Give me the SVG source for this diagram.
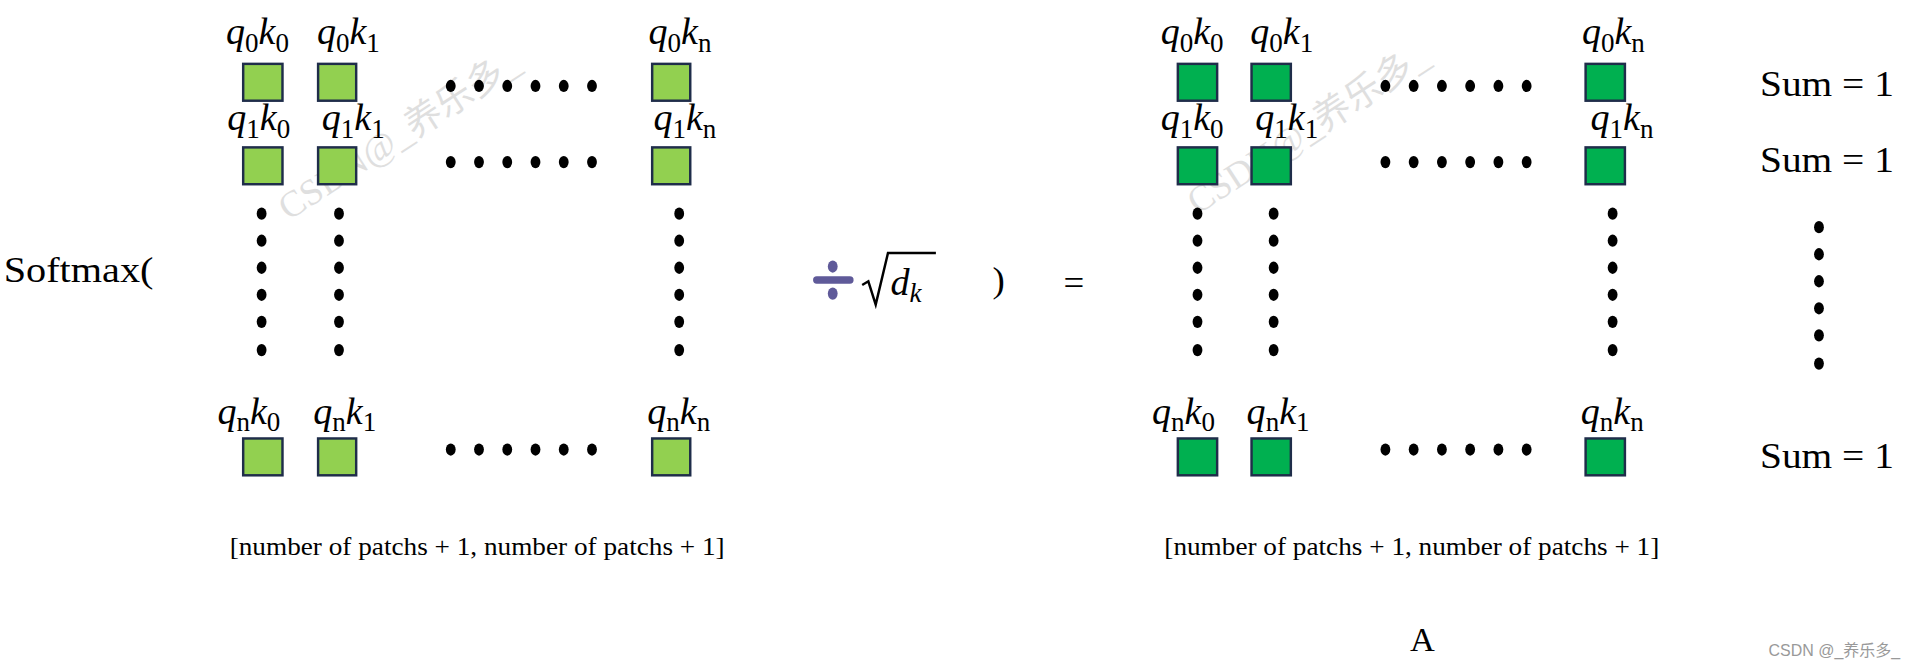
<svg xmlns="http://www.w3.org/2000/svg" width="1916" height="666" viewBox="0 0 1916 666">
<style>
.t{font-family:"Liberation Serif",serif;fill:#000}
.m{font-family:"Liberation Serif",serif;font-style:italic;font-size:31px;fill:#000}
.s{font-style:normal;font-size:22px}
.b1{fill:#92d050;stroke:#1f2d4a;stroke-width:2}
.b2{fill:#00b050;stroke:#1f2d4a;stroke-width:2}
.d{fill:#000}
.w{font-family:"Liberation Serif","Noto Sans CJK SC",serif;font-size:30px;fill:#999;opacity:0.3}
</style>
<defs>
<ellipse id="dt" rx="4" ry="5" class="d"/>
<g id="hd"><use href="#dt" x="0"/><use href="#dt" x="23"/><use href="#dt" x="46"/><use href="#dt" x="69"/><use href="#dt" x="92"/><use href="#dt" x="115"/></g>
<g id="vd"><use href="#dt" y="0"/><use href="#dt" y="22"/><use href="#dt" y="44"/><use href="#dt" y="66"/><use href="#dt" y="88"/><use href="#dt" y="111"/></g>
</defs>
<rect width="1916" height="666" fill="#fff"/>
<g transform="scale(1.2282)">
<text x="235" y="180" transform="rotate(-33 235 180)" class="w">CSDN@_养乐多_</text>
<text x="975" y="175" transform="rotate(-33 975 175)" class="w">CSDN@_养乐多_</text>
<g id="left-matrix">
<text class="m" x="184" y="36">q<tspan class="s" dy="6">0</tspan><tspan dy="-6">k</tspan><tspan class="s" dy="6">0</tspan></text>
<text class="m" x="258" y="36">q<tspan class="s" dy="6">0</tspan><tspan dy="-6">k</tspan><tspan class="s" dy="6">1</tspan></text>
<text class="m" x="528" y="36">q<tspan class="s" dy="6">0</tspan><tspan dy="-6">k</tspan><tspan class="s" dy="6">n</tspan></text>
<text class="m" x="185" y="106">q<tspan class="s" dy="6">1</tspan><tspan dy="-6">k</tspan><tspan class="s" dy="6">0</tspan></text>
<text class="m" x="262" y="106">q<tspan class="s" dy="6">1</tspan><tspan dy="-6">k</tspan><tspan class="s" dy="6">1</tspan></text>
<text class="m" x="532" y="106">q<tspan class="s" dy="6">1</tspan><tspan dy="-6">k</tspan><tspan class="s" dy="6">n</tspan></text>
<text class="m" x="177" y="345">q<tspan class="s" dy="6">n</tspan><tspan dy="-6">k</tspan><tspan class="s" dy="6">0</tspan></text>
<text class="m" x="255" y="345">q<tspan class="s" dy="6">n</tspan><tspan dy="-6">k</tspan><tspan class="s" dy="6">1</tspan></text>
<text class="m" x="527" y="345">q<tspan class="s" dy="6">n</tspan><tspan dy="-6">k</tspan><tspan class="s" dy="6">n</tspan></text>
<rect class="b1" x="198" y="52" width="32" height="30"/><rect class="b1" x="259" y="52" width="31" height="30"/><rect class="b1" x="531" y="52" width="31" height="30"/>
<rect class="b1" x="198" y="120" width="32" height="30"/><rect class="b1" x="259" y="120" width="31" height="30"/><rect class="b1" x="531" y="120" width="31" height="30"/>
<rect class="b1" x="198" y="357" width="32" height="30"/><rect class="b1" x="259" y="357" width="31" height="30"/><rect class="b1" x="531" y="357" width="31" height="30"/>
<use href="#hd" x="367" y="70"/><use href="#hd" x="367" y="132"/><use href="#hd" x="367" y="366"/>
<use href="#vd" x="213" y="174"/><use href="#vd" x="276" y="174"/><use href="#vd" x="553" y="174"/>
<text class="t" x="187" y="452" font-size="21" textLength="403" lengthAdjust="spacingAndGlyphs">[number of patchs + 1, number of patchs + 1]</text>
</g>
<g id="operators">
<text class="t" x="3" y="230" font-size="30" textLength="122" lengthAdjust="spacingAndGlyphs">Softmax(</text>
<g fill="#5f5a99"><rect x="662" y="225" width="33" height="6" rx="3"/><ellipse cx="678" cy="217" rx="4" ry="5"/><ellipse cx="678" cy="239" rx="4" ry="5"/></g>
<path d="M702 232 L707 229 L713 248 L723 206 L762 206" fill="none" stroke="#000" stroke-width="2"/>
<text class="m" x="725" y="240">d<tspan dy="6" font-size="22">k</tspan></text>
<text class="t" x="808" y="238" font-size="30">)</text>
<text class="t" x="866" y="240" font-size="30">=</text>
</g>
<g id="right-matrix">
<text class="m" x="945" y="36">q<tspan class="s" dy="6">0</tspan><tspan dy="-6">k</tspan><tspan class="s" dy="6">0</tspan></text>
<text class="m" x="1018" y="36">q<tspan class="s" dy="6">0</tspan><tspan dy="-6">k</tspan><tspan class="s" dy="6">1</tspan></text>
<text class="m" x="1288" y="36">q<tspan class="s" dy="6">0</tspan><tspan dy="-6">k</tspan><tspan class="s" dy="6">n</tspan></text>
<text class="m" x="945" y="106">q<tspan class="s" dy="6">1</tspan><tspan dy="-6">k</tspan><tspan class="s" dy="6">0</tspan></text>
<text class="m" x="1022" y="106">q<tspan class="s" dy="6">1</tspan><tspan dy="-6">k</tspan><tspan class="s" dy="6">1</tspan></text>
<text class="m" x="1295" y="106">q<tspan class="s" dy="6">1</tspan><tspan dy="-6">k</tspan><tspan class="s" dy="6">n</tspan></text>
<text class="m" x="938" y="345">q<tspan class="s" dy="6">n</tspan><tspan dy="-6">k</tspan><tspan class="s" dy="6">0</tspan></text>
<text class="m" x="1015" y="345">q<tspan class="s" dy="6">n</tspan><tspan dy="-6">k</tspan><tspan class="s" dy="6">1</tspan></text>
<text class="m" x="1287" y="345">q<tspan class="s" dy="6">n</tspan><tspan dy="-6">k</tspan><tspan class="s" dy="6">n</tspan></text>
<rect class="b2" x="959" y="52" width="32" height="30"/><rect class="b2" x="1019" y="52" width="32" height="30"/><rect class="b2" x="1291" y="52" width="32" height="30"/>
<rect class="b2" x="959" y="120" width="32" height="30"/><rect class="b2" x="1019" y="120" width="32" height="30"/><rect class="b2" x="1291" y="120" width="32" height="30"/>
<rect class="b2" x="959" y="357" width="32" height="30"/><rect class="b2" x="1019" y="357" width="32" height="30"/><rect class="b2" x="1291" y="357" width="32" height="30"/>
<use href="#hd" x="1128" y="70"/><use href="#hd" x="1128" y="132"/><use href="#hd" x="1128" y="366"/>
<use href="#vd" x="975" y="174"/><use href="#vd" x="1037" y="174"/><use href="#vd" x="1313" y="174"/>
<text class="t" x="948" y="452" font-size="21" textLength="403" lengthAdjust="spacingAndGlyphs">[number of patchs + 1, number of patchs + 1]</text>
<text class="t" x="1433" y="78" font-size="29" textLength="109" lengthAdjust="spacingAndGlyphs">Sum = 1</text>
<text class="t" x="1433" y="140" font-size="29" textLength="109" lengthAdjust="spacingAndGlyphs">Sum = 1</text>
<text class="t" x="1433" y="381" font-size="29" textLength="109" lengthAdjust="spacingAndGlyphs">Sum = 1</text>
<use href="#vd" x="1481" y="185"/>
<text class="t" x="1148" y="530" font-size="28">A</text>
</g>
<text x="1440" y="534" font-family="Liberation Sans,Noto Sans CJK SC,sans-serif" font-size="13" fill="#999">CSDN @_养乐多_</text>
</g>
</svg>
